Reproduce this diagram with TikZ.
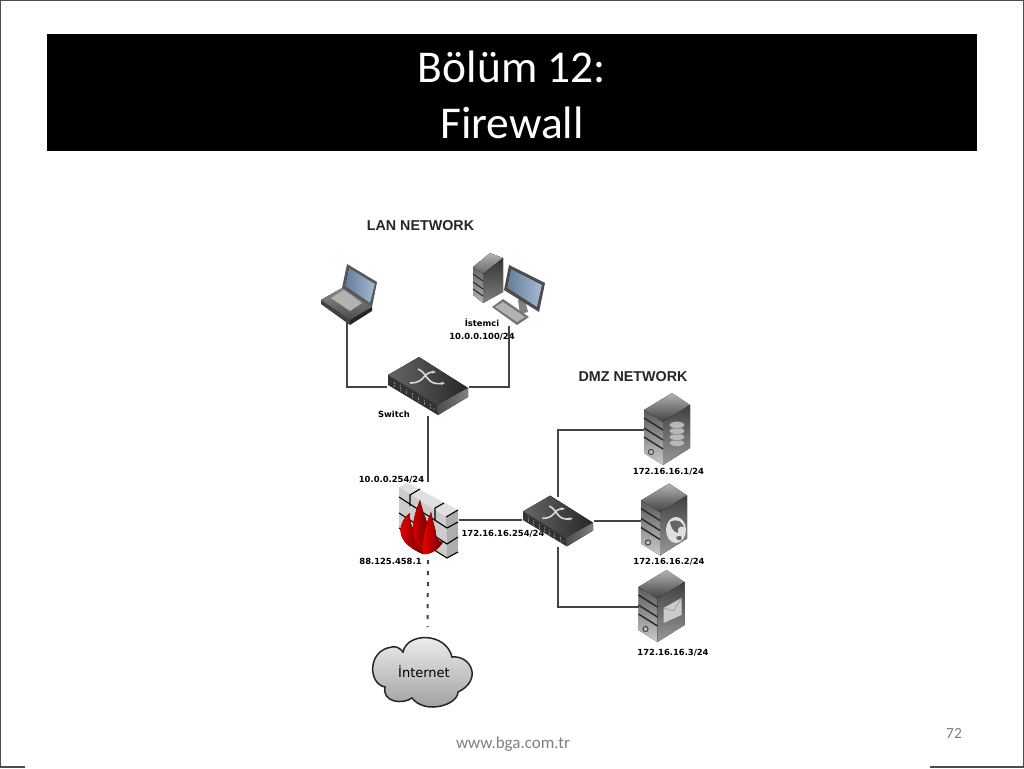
\documentclass[tikz,border=0pt]{standalone}
\usepackage{fontspec}
\newfontfamily\titlefont{Carlito}
\newfontfamily\labelfont{DejaVu Sans}
\newfontfamily\headfont{Liberation Sans}
\usetikzlibrary{arrows.meta,positioning,calc}
\definecolor{linkgray}{HTML}{444444}
\definecolor{screenblue}{HTML}{7E9CC0}
\tikzset{
  iplabel/.style={inner sep=0pt,font=\labelfont\bfseries\fontsize{8.4}{10}\selectfont,text=black},
  headlabel/.style={inner sep=0pt,font=\headfont\bfseries\fontsize{14.3}{16}\selectfont,text=black!85},
  footlabel/.style={inner sep=0pt,font=\titlefont\fontsize{17}{20}\selectfont,text=black!50},
  link/.style={line width=1.5pt,linkgray},
  wanlink/.style={line width=2pt,linkgray,dash pattern=on 4pt off 7pt},
  brick/.style={line width=1.1pt,black},
  flame/.style={left color=red!95!black,right color=red!40!black},
  switchbox/.pic={
    \fill[left color=black!60,middle color=black!38,right color=black!85] (-40,-11) -- (-9,-29) -- (40,2) -- (9,19) -- cycle;
    \fill[black!80] (-40,-11) -- (9,19) -- (10,29) -- (-40,-1) -- cycle;
    \fill[left color=black!70,right color=black!50] (9,19) -- (40,2) -- (40,11) -- (10,29) -- cycle;
    \foreach \i in {1,...,7} \draw[black!50,densely dotted] (-40+\i*6,-8+\i*3.7) -- ++(0,5);
    \draw[white!85!black,line width=1.6pt,-{Stealth[length=4pt]}] (-18,-3) .. controls (-2,-3) and (-6,-14) .. (8,-14);
    \draw[white!85!black,line width=1.6pt,-{Stealth[length=4pt]}] (-10,-17) .. controls (0,-13) and (-2,0) .. (17,-3);
    \fill[green!60!black] (6,23) circle (1.2);
    \coordinate (-w) at (-41,1);
    \coordinate (-e) at (41,1);
    \coordinate (-n) at (0,-27);
    \coordinate (-s) at (0,30);
  },
  serverbox/.pic={
    \fill[top color=black!30,bottom color=black!75] (-28,17) -- (0,0) -- (18,12) -- (-9,29) -- cycle;
    \fill[top color=black!65,bottom color=black!20] (-28,17) -- (-9,29) -- (-9,72) -- (-28,60) -- cycle;
    \fill[top color=black!75,bottom color=black!40] (-9,29) -- (18,12) -- (18,55) -- (-9,72) -- cycle;
    \foreach \r in {8,18,27} \draw[line width=1.4pt,black!85] (-28,17+\r) -- (-9,29+\r);
    \draw[black!75,fill=black!25,line width=1pt] (-21,59) circle (2.6);
    \coordinate (-w) at (-28,37);
    \coordinate (-s) at (0,72);
  },
  dbicon/.pic={
    \foreach \r in {18,12,6,0} \fill[black!28,draw=black!55] (0,\r) ellipse (7.5 and 3.5);
  },
  globeicon/.pic={
    \fill[black!12] (0,0) ellipse (10 and 13);
    \fill[black!60] (-6,-8) .. controls (2,-12) and (6,-8) .. (8,-3) .. controls (3,-5) and (1,-1) .. (2,3) .. controls (-3,2) and (-5,-3) .. cycle;
    \fill[black!60] (0,7) .. controls (4,5) and (7,6) .. (5,10) .. controls (3,11) and (1,10) .. cycle;
  },
  mailicon/.pic={
    \fill[black!20] (0,10) -- (18,0) -- (18,17) -- (0,25) -- cycle;
    \draw[black!50] (0,10) -- (10,13) -- (18,0);
  },
  laptop/.pic={
    \fill[top color=black!45,bottom color=black!70] (321,300) -- (342,288) -- (372,307) -- (350,320) -- cycle;
    \fill[black!75] (321,300) -- (350,320) -- (350,325) -- (321,304) -- cycle;
    \fill[black!85] (350,320) -- (372,307) -- (372,311) -- (350,325) -- cycle;
    \fill[black!30] (331,298) -- (344,290) -- (362,303) -- (350,311) -- cycle;
    \fill[black!65] (342,288) -- (347,264) -- (377,282) -- (372,307) -- cycle;
    \fill[left color=screenblue!80!black,right color=screenblue!70!white] (345,286) -- (349,268) -- (375,284) -- (370,303) -- cycle;
    \coordinate (-s) at (347,322);
  },
  desktop/.pic={
    \fill[top color=black!30,bottom color=black!60] (473,267) -- (490,253) -- (503,258) -- (483,274) -- cycle;
    \fill[top color=black!60,bottom color=black!30] (473,267) -- (483,274) -- (483,303) -- (473,295) -- cycle;
    \fill[top color=black!80,bottom color=black!50] (483,274) -- (503,258) -- (503,292) -- (483,303) -- cycle;
    \foreach \r in {7,15,22} \draw[black!85,line width=1pt] (473,267+\r) -- (483,274+\r);
    \fill[black!50] (518,300) -- (524,296) -- (528,312) -- (520,314) -- cycle;
    \fill[black!70] (509,265) -- (545,283) -- (539,312) -- (504,290) -- cycle;
    \fill[left color=screenblue!80!black,right color=screenblue!70!white] (511,269) -- (542,285) -- (537,307) -- (507,288) -- cycle;
    \fill[black!55] (492,307) -- (503,299) -- (529,317) -- (517,325) -- cycle;
    \fill[black!30] (495,307) -- (503,302) -- (525,317) -- (517,322) -- cycle;
    \coordinate (-s) at (509,326);
  },
  firewall/.pic={
    \fill[black!12] (-29,-33) -- (-20,-37) -- (30,-10) -- (18,-3) -- cycle;
    \fill[black!20] (-29,-33) -- (18,-3) -- (19,38) -- (-29,8) -- cycle;
    \fill[black!32] (18,-3) -- (30,-10) -- (30,32) -- (19,38) -- cycle;
    \draw[brick] (-29,-23) -- (19,8) -- (30,2);
    \draw[brick] (-29,-7) -- (19,24) -- (30,17);
    \draw[brick] (-29,8) -- (19,38) -- (30,32);
    \draw[brick] (18,-3) -- (30,-10);
    \draw[brick] (-18,-14) -- (-18,-25) -- (-8,-31);
    \draw[brick] (7,0) -- (7,-12) -- (16,-17);
    \fill[flame] (-5,34) .. controls (-20,28) and (-30,18) .. (-27,6) .. controls (-25,-1) and (-21,-5) .. (-18,-7) .. controls (-19,5) and (-14,12) .. (-5,20) -- cycle;
    \fill[flame] (-5,34) .. controls (-20,20) and (-16,0) .. (-8,-20) .. controls (-5,-5) and (2,5) .. (2,20) .. controls (2,28) and (0,33) .. cycle;
    \fill[flame] (-5,34) .. controls (-6,15) and (-2,5) .. (3,-8) .. controls (5,3) and (8,10) .. (8,15) .. controls (9,20) and (12,22) .. (15,22) .. controls (10,30) and (2,35) .. cycle;
    \coordinate (-n) at (0,-38);
    \coordinate (-e) at (31,0);
    \coordinate (-s) at (0,40);
  },
}
\begin{document}
\begin{tikzpicture}[x=1pt,y=-1pt]
  \useasboundingbox (0,0) rectangle (1024,768);
  \fill[white] (0,0) rectangle (1024,768);
  % Slide frame
  \draw[black!70,line width=1.2pt] (0.6,767) -- (0.6,0.6) -- (1023.4,0.6) -- (1023.4,767);
  \draw[black!70,line width=1.6pt] (0,767) -- (25,767);
  \draw[black!70,line width=1.6pt] (930,767) -- (1024,767);
  % Title
  \node[fill=black,minimum width=930pt,minimum height=117pt,inner sep=0pt] (titlebar) at (512,92.5) {};
  \node[text=white,align=center,inner sep=0pt,
    font=\titlefont\fontsize{45.5}{56}\selectfont] (title) at (512,94.5) {Bölüm 12:\\Firewall};
  % LAN
  \node[headlabel] (lanhead) at (420.5,225.5) {LAN NETWORK};
  \pic (pc1) at (0,0) {laptop};
  \pic (pc2) at (0,0) {desktop};
  \node[iplabel] (pc2name) at (482,323) {İstemci};
  \node[iplabel] (pc2ip) at (482,336.5) {10.0.0.100/24};
  \pic (lansw) at (428,386) {switchbox};
  \node[iplabel] (lanswname) at (394,414.5) {Switch};
  % Firewall
  \pic (fw) at (428,520) {firewall};
  \node[iplabel] (fwlan) at (391.5,480) {10.0.0.254/24};
  \node[iplabel] (fwwan) at (390.5,561) {88.125.458.1};
  \node[iplabel] (fwdmz) at (503,534) {172.16.16.254/24};
  % DMZ
  \node[headlabel] (dmzhead) at (633,376.5) {DMZ NETWORK};
  \pic[scale=0.875] (dmzsw) at (558,521) {switchbox};
  \pic (srv1) at (672,393) {serverbox};
  \pic at (677,425) {dbicon};
  \pic (srv2) at (669,483.5) {serverbox};
  \pic at (676,530) {globeicon};
  \pic (srv3) at (666.5,570) {serverbox};
  \pic at (663.5,598) {mailicon};
  \node[iplabel] (srv1ip) at (668.5,472) {172.16.16.1/24};
  \node[iplabel] (srv2ip) at (669,562) {172.16.16.2/24};
  \node[iplabel] (srv3ip) at (673,653) {172.16.16.3/24};
  % Internet
  \draw[black!85,line width=1.5pt,top color=black!5,bottom color=black!40]
    (385,687) .. controls (368,684) and (367,650) .. (392,647)
    .. controls (396,646) and (400,648) .. (403,652)
    .. controls (407,632) and (446,632) .. (452,657)
    .. controls (471,655) and (483,680) .. (458,692)
    .. controls (458,705) and (425,715) .. (412,698)
    .. controls (402,705) and (382,702) .. (385,687) -- cycle;
  \node[inner sep=0pt,font=\labelfont\fontsize{13}{15}\selectfont,text=black] (inet) at (424,672) {İnternet};
  \coordinate (inettop) at (427.5,627);
  % Links
  \draw[link] (pc1-s) |- (lansw-w);
  \draw[link] (pc2-s) |- (lansw-e);
  \draw[link] (lansw-s) -- (fw-n);
  \draw[link] (fw-e) -- (fw-e -| dmzsw-w);
  \draw[link] (dmzsw-n) |- (srv1-w);
  \draw[link] (srv2-w) ++(0,0.5) -- ($(srv2-w -| dmzsw-e)+(0,0.5)$);
  \draw[link] (dmzsw-s) |- (srv3-w);
  \draw[wanlink] (fw-s) -- (inettop);
  % Footer
  \node[footlabel] (site) at (513,744) {www.bga.com.tr};
  \node[footlabel,font=\titlefont\fontsize{15.5}{18}\selectfont] (page) at (954,733) {72};
\end{tikzpicture}
\end{document}
